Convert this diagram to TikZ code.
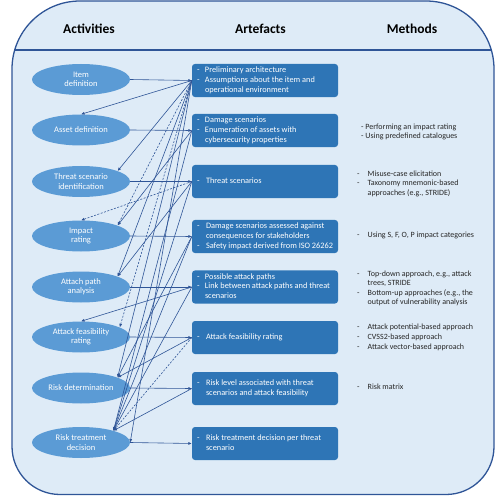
\documentclass[tikz,border=0pt]{standalone}
\usepackage{fontspec}
\usepackage{array}
\setmainfont{Carlito}
\usetikzlibrary{shapes.geometric,arrows.meta}
\definecolor{framebg}{HTML}{DEEBF7}
\definecolor{frameline}{HTML}{2F5597}
\definecolor{actfill}{HTML}{5B9BD5}
\definecolor{artfill}{HTML}{2E75B6}
\definecolor{linkcol}{HTML}{2F5597}
\definecolor{methtext}{HTML}{262626}
% dash list: indent, text width, rows "- & text \\"
\newcommand{\dlist}[3]{\begin{tabular}{@{}p{#1}@{}>{\raggedright\arraybackslash}p{#2}@{}}#3\end{tabular}}

\begin{document}
\begin{tikzpicture}[x=1pt,y=-1pt,
	act/.style={ellipse,fill=actfill,text=white,minimum width=98pt,minimum height=31pt,inner sep=0pt,align=center,font=\fontsize{8.5}{9.4}\selectfont},
	art/.style={rectangle,rounded corners=3pt,fill=artfill,text=white,minimum width=146pt,minimum height=33pt,inner xsep=5pt,inner ysep=2pt,font=\fontsize{8.3}{9.7}\selectfont},
	meth/.style={anchor=west,text=methtext,inner sep=0pt,align=left,font=\fontsize{8}{9.6}\selectfont},
	head/.style={font=\fontsize{13.5}{15}\selectfont\bfseries},
	link/.style={draw=linkcol,line width=0.6pt,-{Latex[length=3.5pt,width=3pt]}},
	dlink/.style={link,dash pattern=on 2pt off 1.5pt}]
	\useasboundingbox (0,0) rectangle (500,497);
	% frame and header
	\draw [line width=1.3pt,draw=frameline,fill=framebg] (12,250) [rounded corners=68pt] -- (12,1) -- (494,1) -- (494,250) [rounded corners=48pt] -- (494,494.5) -- (12,494.5) -- cycle;
	\draw [line width=1.3pt,draw=frameline] (14.7,50) -- (491.3,50);
	\node [head] (h1) at (89,29) {Activities};
	\node [head] (h2) at (260.5,29) {Artefacts};
	\node [head] (h3) at (412,29) {Methods};
	% activities
	\node [act] (e1) at (81,79.5) {Item\\definition};
	\node [act] (e2) at (81,130) {Asset definition};
	\node [act] (e3) at (81,181.5) {Threat scenario\\identification};
	\node [act] (e4) at (81,236) {Impact\\rating};
	\node [act] (e5) at (81,287) {Attach path\\analysis};
	\node [act] (e6) at (81,337) {Attack feasibility\\rating};
	\node [act] (e7) at (81,388) {Risk determination};
	\node [act] (e8) at (81,442.5) {Risk treatment\\decision};
	% artefacts
	\node [art] (b1) at (265,80.5) {\dlist{8pt}{128pt}{- & Preliminary architecture\\ - & Assumptions about the item and\newline operational environment}};
	\node [art] (b2) at (265,130.5) {\dlist{8pt}{128pt}{- & Damage scenarios\\ - & Enumeration of assets with\newline cybersecurity properties}};
	\node [art] (b3) at (265,181.5) {\dlist{9pt}{127pt}{- & Threat scenarios}};
	\node [art] (b4) at (265,236.5) {\dlist{9pt}{127pt}{- & Damage scenarios assessed against\newline consequences for stakeholders\\ - & Safety impact derived from ISO 26262}};
	\node [art] (b5) at (265,287) {\dlist{8pt}{128pt}{- & Possible attack paths\\ - & Link between attack paths and threat\newline scenarios}};
	\node [art] (b6) at (265,337.5) {\dlist{9pt}{127pt}{- & Attack feasibility rating}};
	\node [art] (b7) at (265,388.5) {\dlist{9pt}{127pt}{- & Risk level associated with threat\newline scenarios and attack feasibility}};
	\node [art] (b8) at (265,443.5) {\dlist{9pt}{127pt}{- & Risk treatment decision per threat\newline scenario}};
	% methods
	\node [meth] (m2) at (361,132) {- Performing an impact rating\\- Using predefined catalogues};
	\node [meth] (m3) at (357,184) {\dlist{10.5pt}{122pt}{- & Misuse-case elicitation\\ - & Taxonomy mnemonic-based\newline approaches (e.g., STRIDE)}};
	\node [meth] (m4) at (357,236) {\dlist{10.5pt}{122pt}{- & Using S, F, O, P impact categories}};
	\node [meth] (m5) at (357,288.5) {\dlist{10.5pt}{122pt}{- & Top-down approach, e.g., attack\newline trees, STRIDE\\ - & Bottom-up approaches (e.g., the\newline output of vulnerability analysis}};
	\node [meth] (m6) at (357,337.5) {\dlist{10.5pt}{122pt}{- & Attack potential-based approach\\ - & CVSS2-based approach\\ - & Attack vector-based approach}};
	\node [meth] (m7) at (357,388) {\dlist{10.5pt}{122pt}{- & Risk matrix}};
	% activity -> artefact
	\draw [link] (e1.east) -- (b1.west);
	\draw [link] (e2.east) -- (b2.west);
	\draw [link] (e3.east) -- (b3.west);
	\draw [link] (e4.east) -- (b4.west);
	\draw [link] (e5.east) -- (b5.west);
	\draw [link] (e6.east) -- (b6.west);
	\draw [link] (e7.east) -- (b7.west);
	\draw [link] (e8.east) -- (b8.west);
	% artefact -> later activities
	\draw [link] (b1.west) -- (e2.north);
	\draw [link] (b1.west) -- (e3.16);
	\draw [dlink] (b1.west) -- (e4.16);
	\draw [link] (b1.west) -- (e5.16);
	\draw [dlink] (b1.west) -- (e6.14);
	\draw [link] (b1.west) -- (e7.16);
	\draw [link] (b1.west) -- (e8.east);
	\draw [link] (b2.west) -- (e4.16);
	\draw [link] (b2.west) -- (e8.20);
	\draw [dlink] (b3.west) -- (e4.north);
	\draw [link] (b3.west) -- (e5.16);
	\draw [link] (b3.west) -- (e8.20);
	\draw [link] (b4.west) -- (e7.16);
	\draw [link] (b4.west) -- (e8.20);
	\draw [link] (b5.west) -- (e6.north);
	\draw [link] (b5.west) -- (e8.20);
	\draw [link] (b6.west) -- (e7.16);
	\draw [dlink] (b6.west) -- (e8.20);
	\draw [link] (b7.west) -- (e8.20);
\end{tikzpicture}
\end{document}
